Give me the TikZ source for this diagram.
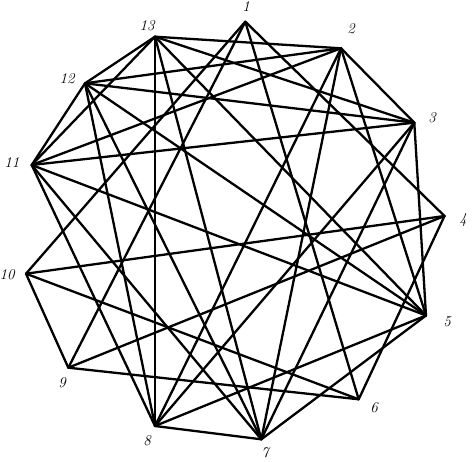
\documentclass[tikz,border=0pt]{standalone}
\begin{document}
\begin{tikzpicture}[x=1pt,y=-1pt,
  edge/.style={line width=2.3pt,line cap=round,line join=round,black},
  lbl/.style={font=\fontsize{15}{15}\selectfont\itshape,inner sep=0pt}]
\useasboundingbox (0,0) rectangle (474,462);
\coordinate (v1) at (245.3,21.7);
\coordinate (v2) at (341,48.3);
\coordinate (v3) at (414.3,122.7);
\coordinate (v4) at (444.5,216);
\coordinate (v5) at (426,315.5);
\coordinate (v6) at (358.7,399.3);
\coordinate (v7) at (261.3,439.3);
\coordinate (v8) at (155,426);
\coordinate (v9) at (68.3,367.7);
\coordinate (v10) at (26,273.7);
\coordinate (v11) at (31.7,165);
\coordinate (v12) at (85,83.3);
\coordinate (v13) at (155,36.7);
% K5 on 1,4,6,9,10
\foreach \a/\b in {1/4,1/6,1/9,1/10,4/6,4/9,4/10,6/9,6/10,9/10}
  \draw[edge] (v\a) -- (v\b);
% K8 on 2,3,5,7,8,11,12,13
\foreach \a/\b in {2/3,2/5,2/7,2/8,2/11,2/12,2/13,
                   3/5,3/7,3/8,3/11,3/12,3/13,
                   5/7,5/8,5/11,5/12,5/13,
                   7/8,7/11,7/12,7/13,
                   8/11,8/12,8/13,
                   11/12,11/13,
                   12/13}
  \draw[edge] (v\a) -- (v\b);
\node[lbl] (l1) at (246,7) {1};
\node[lbl] (l2) at (351,29) {2};
\node[lbl] (l3) at (432,118) {3};
\node[lbl] (l4) at (463,220) {4};
\node[lbl] (l5) at (447,322) {5};
\node[lbl] (l6) at (374,408) {6};
\node[lbl] (l7) at (265,453) {7};
\node[lbl] (l8) at (147,441) {8};
\node[lbl] (l9) at (62,383) {9};
\node[lbl] (l10) at (7,275) {10};
\node[lbl] (l11) at (12,163) {11};
\node[lbl] (l12) at (67,79) {12};
\node[lbl] (l13) at (147,26) {13};
\end{tikzpicture}
\end{document}
